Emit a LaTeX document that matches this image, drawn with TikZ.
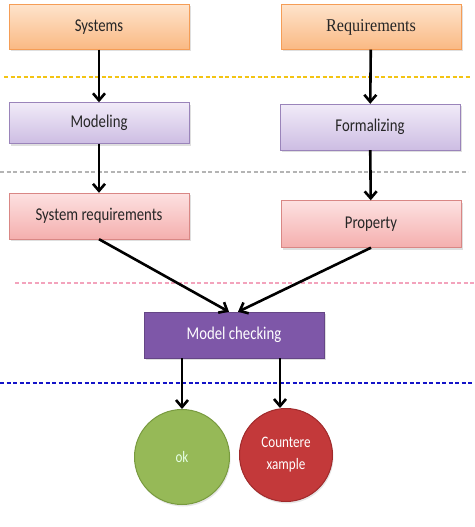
\documentclass[tikz,border=0pt]{standalone}
\usepackage{fontspec}
\setmainfont{Carlito}[FakeStretch=0.82]
\newfontfamily\reqfont{Liberation Serif}[FakeStretch=0.9]
\usetikzlibrary{arrows.meta,shadows}
\definecolor{orangeA}{HTML}{FEE3CB}
\definecolor{orangeB}{HTML}{FAB983}
\definecolor{orangeL}{HTML}{F59D56}
\definecolor{lilacA}{HTML}{F1EBF8}
\definecolor{lilacB}{HTML}{CDBDE3}
\definecolor{lilacL}{HTML}{9A84BA}
\definecolor{pinkA}{HTML}{FDE1E1}
\definecolor{pinkB}{HTML}{F4AFAE}
\definecolor{pinkL}{HTML}{D98785}
\definecolor{mcheck}{HTML}{7E57A8}
\definecolor{okgreen}{HTML}{96B957}
\definecolor{okline}{HTML}{789A3F}
\definecolor{cexred}{HTML}{C3393A}
\definecolor{cexline}{HTML}{A02A2B}
\definecolor{sepyellow}{HTML}{F3C413}
\definecolor{sepgray}{HTML}{B4B4B4}
\definecolor{seppink}{HTML}{F3A3BC}
\definecolor{sepblue}{HTML}{1414C8}
\tikzset{
  box/.style={rectangle, minimum width=180pt, minimum height=45pt, text=black!85,
    font=\fontsize{18}{20}\selectfont,
    drop shadow={opacity=0.25, shadow xshift=1.5pt, shadow yshift=-2pt}},
  inbox/.style={box, draw=orangeL, top color=orangeA, bottom color=orangeB},
  stepbox/.style={box, draw=lilacL, top color=lilacA, bottom color=lilacB},
  outbox/.style={box, draw=pinkL, top color=pinkA, bottom color=pinkB},
  checkbox/.style={box, draw=mcheck!80!black, fill=mcheck, text=white},
  verdict/.style={circle, line width=1pt, align=center, font=\fontsize{16}{22}\selectfont,
    drop shadow={opacity=0.2, shadow xshift=1pt, shadow yshift=-2pt}},
  flow/.style={line width=2.6pt, -{Straight Barb[length=7pt,width=12pt,line width=2.6pt]}},
  sep/.style={line width=1.5pt, dash pattern=on 4pt off 2.5pt},
}
\begin{document}
\begin{tikzpicture}[x=1pt,y=-1pt]
	\useasboundingbox (0,0) rectangle (474,527);

	% Entrees
	\node[inbox] (sys) at (99,27) {Systems};
	\node[inbox, font=\fontsize{18}{20}\reqfont] (req) at (371,27) {Requirements};

	% Etapes
	\node[stepbox, minimum height=41pt] (model) at (99,123) {Modeling};
	\node[stepbox, minimum height=46pt] (formal) at (370,127) {Formalizing};

	% Resultats
	\node[outbox, minimum height=46pt] (sysreq) at (99,216) {System requirements};
	\node[outbox, minimum height=47pt] (prop) at (371,224) {Property};

	% Verification
	\node[checkbox, minimum height=46pt] (mc) at (234,335) {Model checking};

	% Verdicts
	\node[verdict, draw=okline, fill=okgreen, text=green!10!white, minimum size=95pt] (ok) at (182,457) {ok};
	\node[verdict, draw=cexline, fill=cexred, text=white, minimum size=93pt] (cex) at (286,455) {Countere\\xample};

	% Separateurs
	\draw[sep, sepyellow] (4,77) -- (470,77);
	\draw[sep, sepgray] (0,172) -- (468,172);
	\draw[sep, seppink] (15,283) -- (474,283);
	\draw[sep, sepblue] (0,383) -- (474,383);

	% Fleches
	\draw[flow] (sys) -- (model);
	\draw[flow] (req) -- (formal);
	\draw[flow] (model) -- (sysreq);
	\draw[flow] (formal) -- (prop);
	\draw[flow] (sysreq.south) -- ([xshift=-5pt]mc.north);
	\draw[flow] (prop.south) -- ([xshift=4pt]mc.north);
	\draw[flow] (ok.north |- mc.south) -- (ok.north);
	\draw[flow] ([xshift=-6pt]cex.north |- mc.south) -- ([xshift=-6pt]cex.north);
\end{tikzpicture}
\end{document}
